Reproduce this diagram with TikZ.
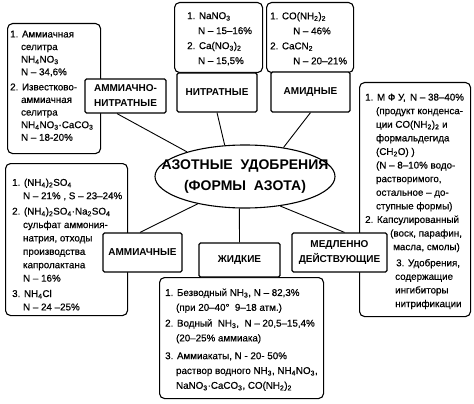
\documentclass[tikz,border=0pt]{standalone}
\usepackage{fontspec}
\setmainfont{Liberation Sans}
\newfontfamily\bodyfont{Liberation Sans}[FakeBold=0.5]
\usetikzlibrary{shapes.geometric}
\newcommand\sub[1]{\textsubscript{#1}}
\newcommand\ind{\hphantom{1.\ }}
\begin{document}
\begin{tikzpicture}[x=1pt,y=-1pt,
  infobox/.style={draw, line width=1.1pt, rounded corners=5pt, fill=white, anchor=north west, inner sep=0pt},
  labelbox/.style={draw, line width=1.2pt, rounded corners=1.5pt, fill=white, inner sep=0pt,
     font=\fontsize{10}{15}\selectfont\bfseries, align=center},
  body/.style={anchor=north west, inner sep=0pt, align=left},
  conn/.style={line width=0.9pt}]
\useasboundingbox (0,0) rectangle (474,404);

% information boxes
\node[infobox, minimum width=93pt, minimum height=130pt] (b1) at (7,23) {};
\node[infobox, minimum width=88pt, minimum height=70pt] (nitinfo) at (174,2) {};
\node[infobox, minimum width=87pt, minimum height=70pt] (amdinfo) at (266,2) {};
\node[infobox, minimum width=111pt, minimum height=234pt] (mfu) at (359,82) {};
\node[infobox, minimum width=122pt, minimum height=152pt] (amninfo) at (5,163) {};
\node[infobox, minimum width=164pt, minimum height=121pt] (liqinfo) at (159,277) {};

% texts of information boxes
\node[body, font=\bodyfont\fontsize{9.8}{12.6}\selectfont] (t1) at (10,30.5) {1. Аммиачная\\
\ind селитра\\
\ind NH\sub4NO\sub3\\
\ind N – 34,6\%\\[2.5pt]
2. Известково-\\
\ind аммиачная\\
\ind селитра\\
\ind NH\sub4NO\sub3·CaCO\sub3\\
\ind N – 18-20\%};

\node[body, font=\bodyfont\fontsize{9.8}{15}\selectfont] (tnit) at (187,12) {1. NaNO\sub3\\
\ind N – 15–16\%\\
2. Ca(NO\sub3)\sub2\\
\ind N – 15,5\%};

\node[body, font=\bodyfont\fontsize{9.8}{15}\selectfont] (tamd) at (270,12) {1. CO(NH\sub2)\sub2\\
\hspace*{23pt}N – 46\%\\
2. CaCN\sub2\\
\hspace*{23pt}N – 20–21\%};

\node[body, font=\bodyfont\fontsize{9.8}{13.6}\selectfont] (tmfu) at (365,93.5) {1. М Ф У, \,N – 38–40\%\\
\ind (продукт конденса-\\
\ind ции CO(NH\sub2)\sub2 и\\
\ind формальдегида\\
\ind (CH\sub2O) )\\
\ind (N – 8–10\% водо-\\
\ind растворимого,\\
\ind остальное – до-\\
\ind ступные формы)\\
2. Капсулированный\\
\hspace*{25pt}(воск, парафин,\\
\hspace*{28pt}масла, смолы)\\[2.5pt]
\hspace*{31pt}3. Удобрения,\\
\hspace*{30pt}содержащие\\
\hspace*{30pt}ингибиторы\\
\hspace*{30pt}нитрификации};

\node[body, font=\bodyfont\fontsize{9.8}{13.4}\selectfont] (tamn) at (12,178.5) {1. (NH\sub4)\sub2SO\sub4\\
\ind N – 21\% , S – 23–24\%\\[2pt]
2. (NH\sub4)\sub2SO\sub4·Na\sub2SO\sub4\\
\ind сульфат аммония-\\
\ind натрия, отходы\\
\ind производства\\
\ind капролактана\\
\ind N – 16\%\\[2pt]
3. NH\sub4Cl\\
\ind N – 24 –25\%};

\node[body, font=\bodyfont\fontsize{9.8}{14.8}\selectfont] (tliq) at (165,288.5) {1. Безводный NH\sub3, N – 82,3\%\\
\ind (при 20–40°\ \ 9–18 атм.)\\[1pt]
2. Водный\ \ NH\sub3,\ \ N – 20,5–15,4\%\\
\ind (20–25\% аммиака)\\[3pt]
3. Аммиакаты, N - 20- 50\%\\
\ind раствор водного NH\sub3, NH\sub4NO\sub3,\\
\ind NaNO\sub3·CaCO\sub3, CO(NH\sub2)\sub2};

% central ellipse
\node[ellipse, draw, line width=1.1pt, fill=white, minimum width=180pt, minimum height=63pt, inner sep=0pt] (ell) at (245,176.5) {};
\node[align=center, inner sep=0pt, font=\fontsize{14}{21}\selectfont\bfseries] (ellt) at (ell.center) {АЗОТНЫЕ\ \ УДОБРЕНИЯ\\(ФОРМЫ\ \ АЗОТА)};

% category boxes
\node[labelbox, minimum width=81pt, minimum height=34pt] (an) at (125.5,96) {АММИАЧНО-\\НИТРАТНЫЕ};
\node[labelbox, minimum width=80pt, minimum height=39pt] (nit) at (217,92.5) {НИТРАТНЫЕ};
\node[labelbox, minimum width=79pt, minimum height=40pt] (amd) at (310.5,92) {АМИДНЫЕ};
\node[labelbox, minimum width=79pt, minimum height=39pt] (amn) at (142.5,252.5) {АММИАЧНЫЕ};
\node[labelbox, minimum width=81pt, minimum height=34pt] (liq) at (239.5,260) {ЖИДКИЕ};
\node[labelbox, minimum width=95pt, minimum height=39pt] (slow) at (339.5,252.5) {МЕДЛЕННО\\ДЕЙСТВУЮЩИЕ};

% connectors
\draw[conn] ([xshift=-8.5pt]an.south) -- (ell.157.6);
\draw[conn] (nit.south) -- (ell.123);
\draw[conn] (amd.south) -- (ell.37);
\draw[conn] ([xshift=-2.5pt]amn.north) -- (ell.210);
\draw[conn] (liq.north) -- (ell.260);
\draw[conn] ([xshift=5pt]slow.north) -- (ell.320);
\end{tikzpicture}
\end{document}
